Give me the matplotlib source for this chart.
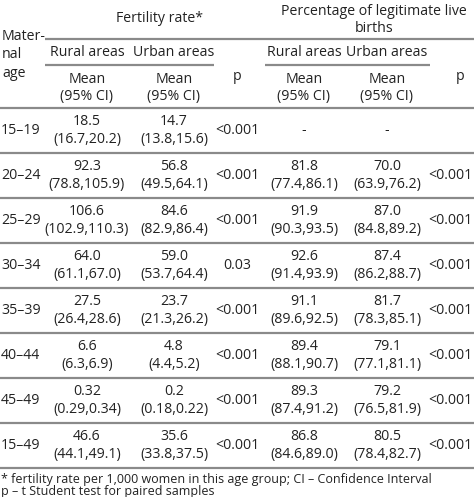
import matplotlib
matplotlib.use("Agg")
import matplotlib.pyplot as plt

ages = ["15–19", "20–24", "25–29", "30–34", "35–39", "40–44", "45–49", "15–49"]
fert_rural = ["18.5\n(16.7,20.2)", "92.3\n(78.8,105.9)", "106.6\n(102.9,110.3)", "64.0\n(61.1,67.0)",
              "27.5\n(26.4,28.6)", "6.6\n(6.3,6.9)", "0.32\n(0.29,0.34)", "46.6\n(44.1,49.1)"]
fert_urban = ["14.7\n(13.8,15.6)", "56.8\n(49.5,64.1)", "84.6\n(82.9,86.4)", "59.0\n(53.7,64.4)",
              "23.7\n(21.3,26.2)", "4.8\n(4.4,5.2)", "0.2\n(0.18,0.22)", "35.6\n(33.8,37.5)"]
fert_p = ["<0.001", "<0.001", "<0.001", "0.03", "<0.001", "<0.001", "<0.001", "<0.001"]
leg_rural = ["-", "81.8\n(77.4,86.1)", "91.9\n(90.3,93.5)", "92.6\n(91.4,93.9)",
             "91.1\n(89.6,92.5)", "89.4\n(88.1,90.7)", "89.3\n(87.4,91.2)", "86.8\n(84.6,89.0)"]
leg_urban = ["-", "70.0\n(63.9,76.2)", "87.0\n(84.8,89.2)", "87.4\n(86.2,88.7)",
             "81.7\n(78.3,85.1)", "79.1\n(77.1,81.1)", "79.2\n(76.5,81.9)", "80.5\n(78.4,82.7)"]
leg_p = ["", "<0.001", "<0.001", "<0.001", "<0.001", "<0.001", "<0.001", "<0.001"]

plt.rcParams['font.family'] = ['Open Sans', 'DejaVu Sans']
W, H = 474, 497
fig = plt.figure(figsize=(W/100, H/100), dpi=100)
ax = fig.add_axes([0, 0, 1, 1])
ax.set_xlim(0, W); ax.set_ylim(H, 0); ax.axis('off')
fs = 10.2
tc = '#222222'
lc = '#8a8a8a'
lw = 1.6

def line(x0, x1, y):
    ax.plot([x0, x1], [y, y], color=lc, lw=lw, solid_capstyle='butt')

# headers
ax.text(160, 18, "Fertility rate*", ha='center', va='center', fontsize=fs, color=tc)
ax.text(374, 20, "Percentage of legitimate live\nbirths", ha='center', va='center', fontsize=fs, color=tc, linespacing=1.25)
ax.text(2, 55, "Mater-\nnal\nage", ha='left', va='center', fontsize=fs, color=tc, linespacing=1.3)
line(45, W, 39)
for x, t in [(87, "Rural areas"), (174, "Urban areas"), (304, "Rural areas"), (387, "Urban areas")]:
    ax.text(x, 53, t, ha='center', va='center', fontsize=fs, color=tc)
    ax.text(x, 88, "Mean\n(95% CI)", ha='center', va='center', fontsize=fs, color=tc, linespacing=1.25)
line(45, 214, 65)
line(265, 430, 65)
ax.text(237, 76, "p", ha='center', va='center', fontsize=fs, color=tc)
ax.text(460, 76, "p", ha='center', va='center', fontsize=fs, color=tc)
line(0, W, 108)

y0, rh = 108, 45
for i in range(len(ages)):
    yc = y0 + rh * (i + 0.5)
    ax.text(1, yc, ages[i], ha='left', va='center', fontsize=fs, color=tc)
    for x, col in [(87, fert_rural), (174, fert_urban), (304, leg_rural), (387, leg_urban)]:
        ax.text(x, yc, col[i], ha='center', va='center', fontsize=fs, color=tc, linespacing=1.25)
    ax.text(237, yc, fert_p[i], ha='center', va='center', fontsize=fs, color=tc)
    ax.text(473, yc, leg_p[i], ha='right', va='center', fontsize=fs, color=tc)
    line(0, W, y0 + rh * (i + 1))

ax.text(1, 479, "* fertility rate per 1,000 women in this age group; CI – Confidence Interval",
        ha='left', va='center', fontsize=9, color=tc)
ax.text(1, 491, "p – t Student test for paired samples", ha='left', va='center', fontsize=9, color=tc)
fig.savefig("out.png", dpi=100)
